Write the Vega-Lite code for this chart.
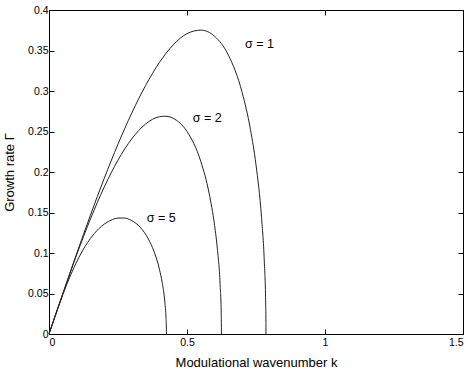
{
  "$schema": "https://vega.github.io/schema/vega-lite/v6.json",
  "width": 414,
  "height": 324,
  "autosize": {"type": "none"},
  "padding": {"left": 49, "top": 10, "right": 11, "bottom": 36},
  "background": "white",
  "config": {
    "view": {"stroke": "#000", "strokeWidth": 1},
    "font": "Liberation Sans",
    "axis": {
      "grid": false,
      "domainColor": "#000",
      "tickColor": "#000",
      "tickSize": -5,
      "labelColor": "#000",
      "labelFont": "Liberation Sans",
      "labelFontSize": 10.5,
      "titleFont": "Liberation Sans",
      "titleFontWeight": "normal",
      "titleColor": "#000",
      "titleFontSize": 13
    }
  },
  "datasets": {
    "curves": [
      {"sigma": "1", "k": 0, "g": 0},
      {"sigma": "1", "k": 0.02, "g": 0.01999},
      {"sigma": "1", "k": 0.05, "g": 0.049875},
      {"sigma": "1", "k": 0.1, "g": 0.099},
      {"sigma": "1", "k": 0.15, "g": 0.146624},
      {"sigma": "1", "k": 0.2, "g": 0.191994},
      {"sigma": "1", "k": 0.25, "g": 0.234344},
      {"sigma": "1", "k": 0.3, "g": 0.27289},
      {"sigma": "1", "k": 0.35, "g": 0.306798},
      {"sigma": "1", "k": 0.4, "g": 0.335158},
      {"sigma": "1", "k": 0.45, "g": 0.356922},
      {"sigma": "1", "k": 0.5, "g": 0.37081},
      {"sigma": "1", "k": 0.55, "g": 0.375152},
      {"sigma": "1", "k": 0.6, "g": 0.367567},
      {"sigma": "1", "k": 0.65, "g": 0.344247},
      {"sigma": "1", "k": 0.7, "g": 0.297925},
      {"sigma": "1", "k": 0.73, "g": 0.252308},
      {"sigma": "1", "k": 0.75, "g": 0.208791},
      {"sigma": "1", "k": 0.77, "g": 0.143819},
      {"sigma": "1", "k": 0.78, "g": 0.090076},
      {"sigma": "1", "k": 0.785, "g": 0.03925},
      {"sigma": "1", "k": 0.786, "g": 0.01426},
      {"sigma": "1", "k": 0.786151, "g": 0},
      {"sigma": "2", "k": 0, "g": 0},
      {"sigma": "2", "k": 0.02, "g": 0.01998},
      {"sigma": "2", "k": 0.05, "g": 0.049689},
      {"sigma": "2", "k": 0.1, "g": 0.097547},
      {"sigma": "2", "k": 0.15, "g": 0.141901},
      {"sigma": "2", "k": 0.2, "g": 0.181336},
      {"sigma": "2", "k": 0.25, "g": 0.214695},
      {"sigma": "2", "k": 0.3, "g": 0.240991},
      {"sigma": "2", "k": 0.35, "g": 0.259246},
      {"sigma": "2", "k": 0.4, "g": 0.268256},
      {"sigma": "2", "k": 0.42, "g": 0.2689},
      {"sigma": "2", "k": 0.45, "g": 0.266218},
      {"sigma": "2", "k": 0.5, "g": 0.25},
      {"sigma": "2", "k": 0.55, "g": 0.213006},
      {"sigma": "2", "k": 0.58, "g": 0.173932},
      {"sigma": "2", "k": 0.6, "g": 0.133944},
      {"sigma": "2", "k": 0.61, "g": 0.10524},
      {"sigma": "2", "k": 0.62, "g": 0.060981},
      {"sigma": "2", "k": 0.624, "g": 0.025195},
      {"sigma": "2", "k": 0.62481, "g": 0},
      {"sigma": "5", "k": 0, "g": 0},
      {"sigma": "5", "k": 0.02, "g": 0.019897},
      {"sigma": "5", "k": 0.05, "g": 0.048443},
      {"sigma": "5", "k": 0.08, "g": 0.074002},
      {"sigma": "5", "k": 0.1, "g": 0.088882},
      {"sigma": "5", "k": 0.13, "g": 0.10768},
      {"sigma": "5", "k": 0.15, "g": 0.117872},
      {"sigma": "5", "k": 0.18, "g": 0.129811},
      {"sigma": "5", "k": 0.2, "g": 0.135647},
      {"sigma": "5", "k": 0.23, "g": 0.141346},
      {"sigma": "5", "k": 0.25, "g": 0.143122},
      {"sigma": "5", "k": 0.27, "g": 0.143226},
      {"sigma": "5", "k": 0.3, "g": 0.139973},
      {"sigma": "5", "k": 0.33, "g": 0.131891},
      {"sigma": "5", "k": 0.36, "g": 0.117345},
      {"sigma": "5", "k": 0.38, "g": 0.102332},
      {"sigma": "5", "k": 0.4, "g": 0.08},
      {"sigma": "5", "k": 0.41, "g": 0.063669},
      {"sigma": "5", "k": 0.42, "g": 0.038592},
      {"sigma": "5", "k": 0.424, "g": 0.020013},
      {"sigma": "5", "k": 0.425, "g": 0.01107},
      {"sigma": "5", "k": 0.425438, "g": 0}
    ],
    "labels": [
      {"text": "σ = 1", "k": 0.71, "g": 0.358},
      {"text": "σ = 2", "k": 0.521, "g": 0.2667},
      {"text": "σ = 5", "k": 0.354, "g": 0.1428}
    ]
  },
  "layer": [
    {
      "data": {"name": "curves"},
      "mark": {"type": "line", "color": "#222", "strokeWidth": 1, "interpolate": "monotone"},
      "encoding": {
        "x": {"field": "k", "type": "quantitative", "scale": {"domain": [0, 1.5], "nice": false, "zero": false},
              "axis": {"orient": "bottom", "values": [0, 0.5, 1, 1.5], "format": "~g", "title": "Modulational wavenumber k", "labelPadding": 8, "titlePadding": 9}},
        "y": {"field": "g", "type": "quantitative", "scale": {"domain": [0, 0.4], "nice": false, "zero": false},
              "axis": {"orient": "left", "values": [0, 0.05, 0.1, 0.15, 0.2, 0.25, 0.3, 0.35, 0.4], "format": "~g", "title": "Growth rate Γ", "labelPadding": 6, "titlePadding": 11}},
        "detail": {"field": "sigma", "type": "nominal"},
        "order": {"field": "k", "type": "quantitative"}
      }
    },
    {
      "data": {"name": "labels"},
      "mark": {"type": "text", "align": "left", "baseline": "middle", "fontSize": 12.5, "font": "Liberation Sans", "color": "#000"},
      "encoding": {
        "x": {"field": "k", "type": "quantitative", "scale": {"domain": [0, 1.5], "nice": false, "zero": false},
              "axis": {"orient": "top", "values": [0, 0.5, 1, 1.5], "labels": false, "title": null}},
        "y": {"field": "g", "type": "quantitative", "scale": {"domain": [0, 0.4], "nice": false, "zero": false},
              "axis": {"orient": "right", "values": [0, 0.05, 0.1, 0.15, 0.2, 0.25, 0.3, 0.35, 0.4], "labels": false, "title": null}},
        "text": {"field": "text", "type": "nominal"}
      }
    }
  ],
  "resolve": {"scale": {"x": "independent", "y": "independent"}, "axis": {"x": "independent", "y": "independent"}}
}
